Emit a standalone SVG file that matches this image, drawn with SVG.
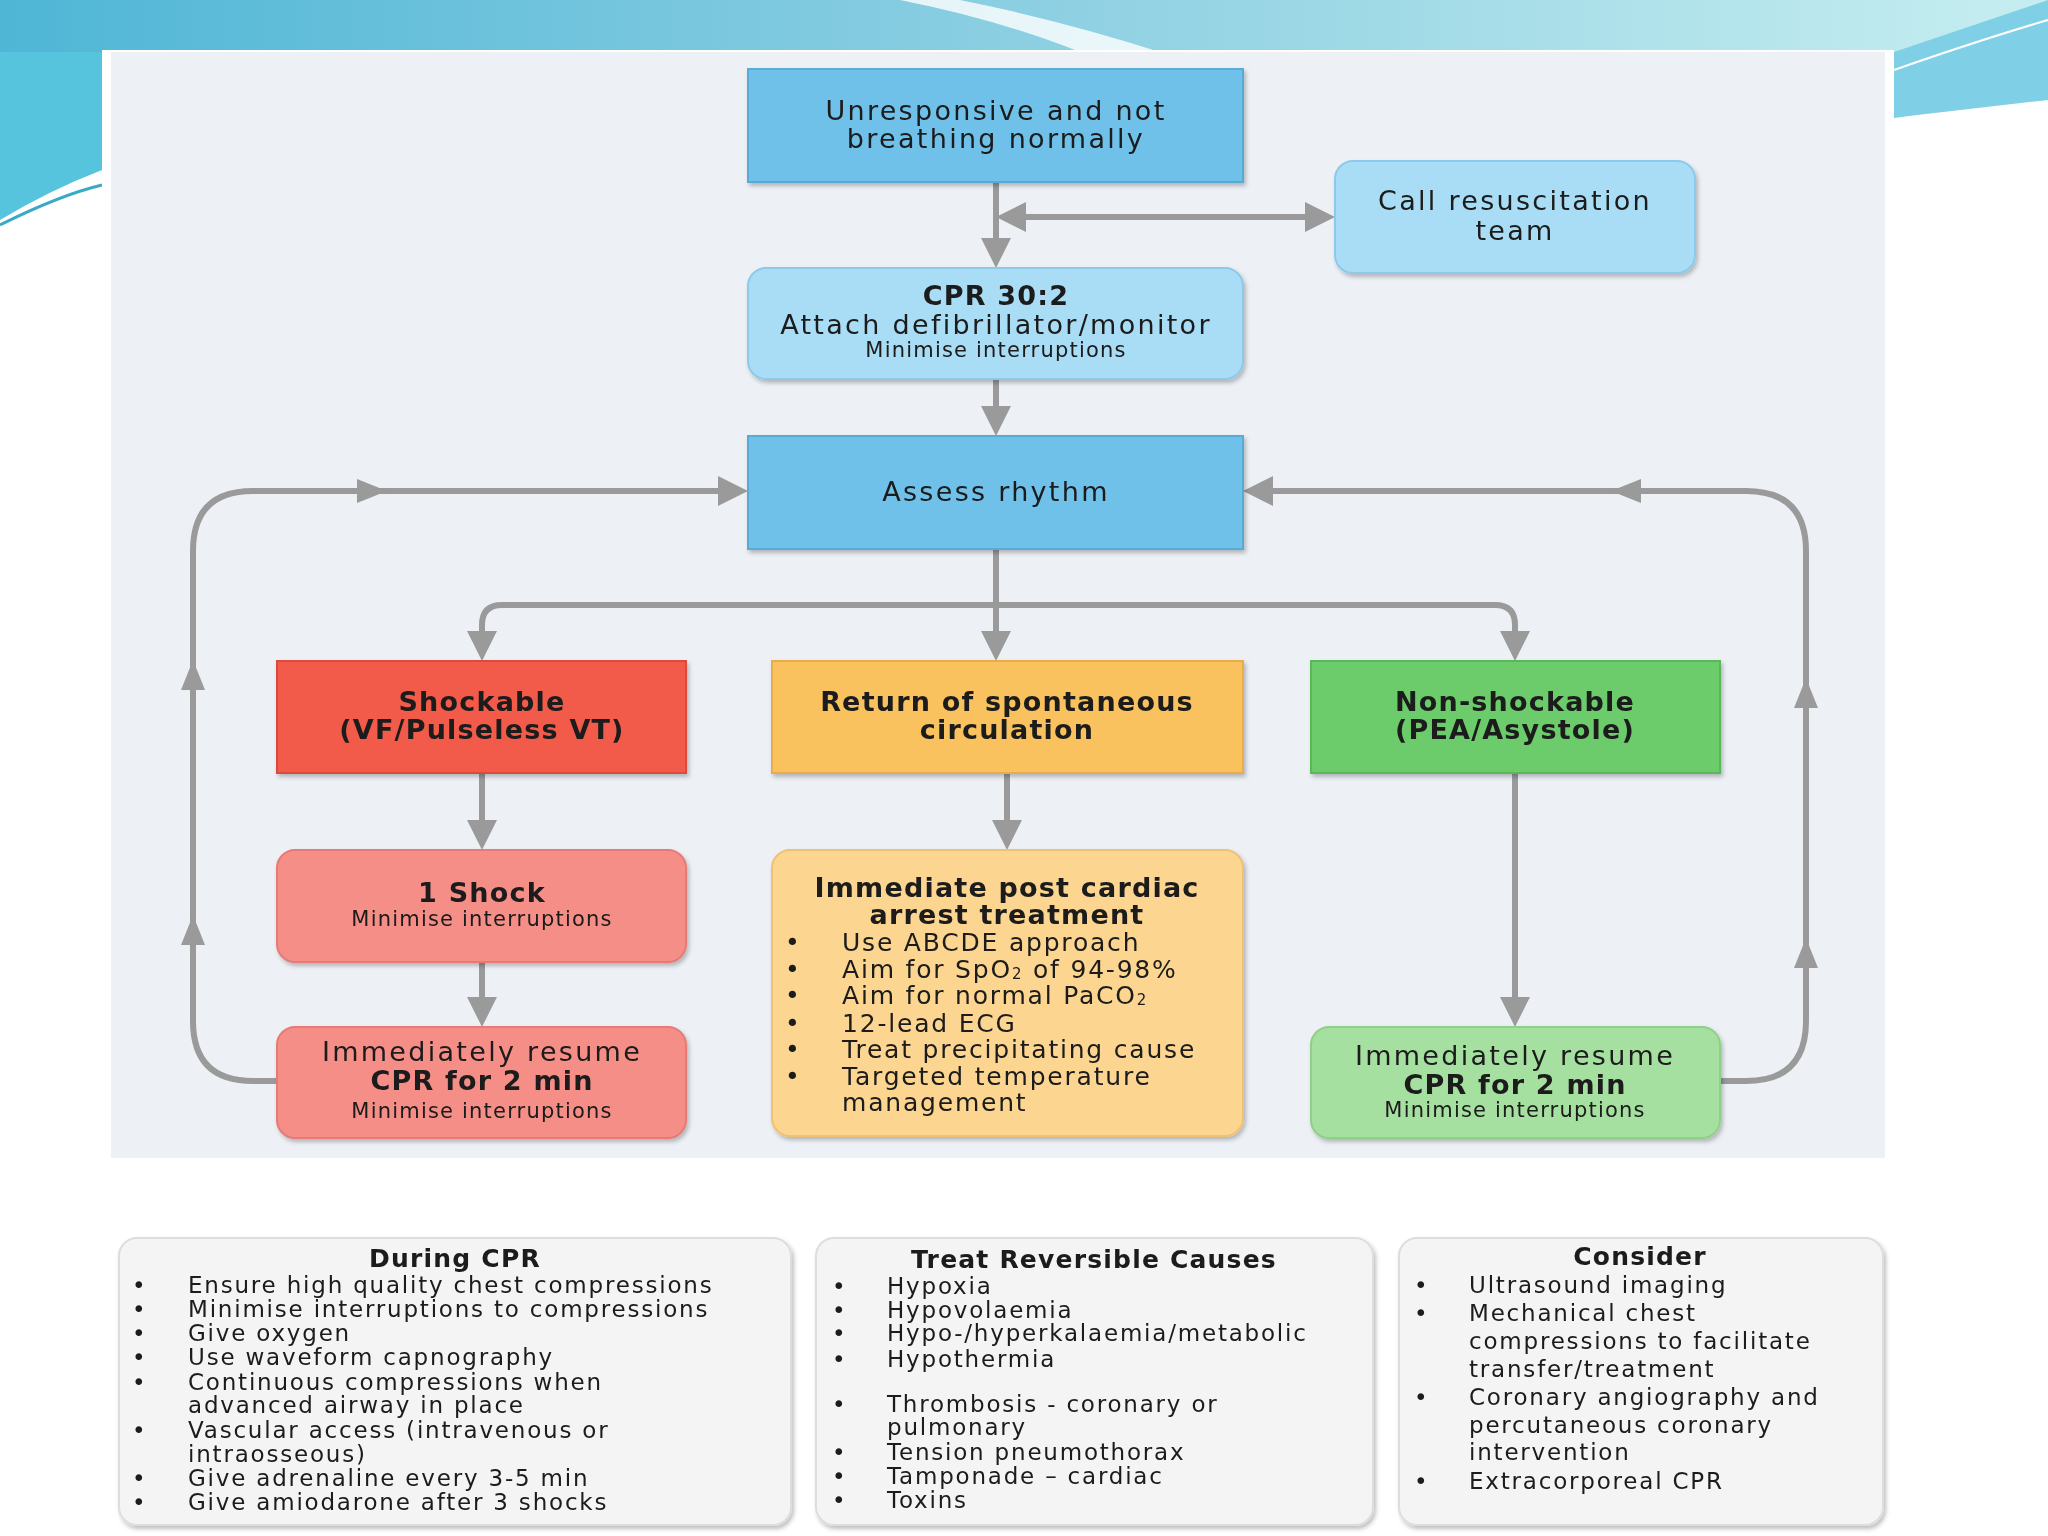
<svg xmlns="http://www.w3.org/2000/svg" width="2048" height="1536" viewBox="0 0 2048 1536">
<defs>
<linearGradient id="band" x1="0" y1="0" x2="1" y2="0"><stop offset="0" stop-color="#4fb6d6"/><stop offset="0.5" stop-color="#8ccfe2"/><stop offset="1" stop-color="#c6eef0"/></linearGradient>
<marker id="ah" viewBox="0 0 10 10" refX="8" refY="5" markerWidth="5" markerHeight="5" orient="auto-start-reverse"><path d="M0,0 L10,5 L0,10 z" fill="#9a9a9a"/></marker>
<path id="tri" d="M-15,-12 L15,0 L-15,12 z" fill="#9a9a9a"/>
<filter id="sh" x="-5%" y="-5%" width="112%" height="120%"><feDropShadow dx="2" dy="3" stdDeviation="2" flood-color="#000" flood-opacity="0.25"/></filter>
</defs>
<style>
text{font-family:"DejaVu Sans",Verdana,sans-serif;fill:#1a1a1a;dominant-baseline:central}
.n{font-size:27px;text-anchor:middle;letter-spacing:2.3px}
.b{font-weight:bold;letter-spacing:1.2px}
.s{font-size:21px;text-anchor:middle;letter-spacing:1.2px}
.t{font-size:23px;letter-spacing:1.8px}
.c{fill:none;stroke:#9a9a9a;stroke-width:6}
</style>
<rect width="2048" height="1536" fill="#ffffff"/>
<rect width="2048" height="52" fill="url(#band)"/>
<path d="M900,0 Q1000,20 1080,52 L1160,52 Q1060,20 960,0 Z" fill="#ffffff" opacity="0.8"/>
<path d="M0,52 L102,52 L102,170 Q50,190 0,220 Z" fill="#55c4dc"/>
<path d="M0,225 Q60,195 102,185" fill="none" stroke="#3aa9c6" stroke-width="3"/>
<path d="M1894,52 L2048,0 L2048,100 Q1960,110 1894,118 Z" fill="#7fd0e6"/>
<path d="M1894,70 Q1980,40 2048,20" fill="none" stroke="#ffffff" stroke-width="2"/>
<rect x="102" y="50" width="1792" height="1486" fill="#ffffff"/>
<rect x="111" y="52" width="1774" height="1106" fill="#edf1f6"/>

<g id="connectors">
<path class="c" d="M996,182 V262" marker-end="url(#ah)"/>
<path class="c" d="M1002,217 H1329" marker-start="url(#ah)" marker-end="url(#ah)"/>
<path class="c" d="M996,379 V430" marker-end="url(#ah)"/>
<path class="c" d="M996,549 V655" marker-end="url(#ah)"/>
<path class="c" d="M996,605 H502 Q482,605 482,625 V655" marker-end="url(#ah)"/>
<path class="c" d="M996,605 H1495 Q1515,605 1515,625 V655" marker-end="url(#ah)"/>
<path class="c" d="M482,773 V844" marker-end="url(#ah)"/>
<path class="c" d="M482,962 V1021" marker-end="url(#ah)"/>
<path class="c" d="M1007,773 V844" marker-end="url(#ah)"/>
<path class="c" d="M1515,773 V1021" marker-end="url(#ah)"/>
<path class="c" d="M277,1081 H253 Q193,1081 193,1021 V551 Q193,491 253,491 H742" marker-end="url(#ah)"/>
<path class="c" d="M1720,1081 H1746 Q1806,1081 1806,1021 V551 Q1806,491 1746,491 H1249" marker-end="url(#ah)"/>
<use href="#tri" transform="translate(372,491)"/>
<use href="#tri" transform="translate(193,675) rotate(-90)"/>
<use href="#tri" transform="translate(193,930) rotate(-90)"/>
<use href="#tri" transform="translate(1626,491) rotate(180)"/>
<use href="#tri" transform="translate(1806,693) rotate(-90)"/>
<use href="#tri" transform="translate(1806,953) rotate(-90)"/>
</g>

<g id="n1" filter="url(#sh)"><rect x="748" y="69" width="495" height="113" fill="#6fc1ea" stroke="#5aaad6" stroke-width="2"/>
<text class="n" x="996" y="110">Unresponsive and not</text><text class="n" x="996" y="138">breathing normally</text></g>
<g id="n2" filter="url(#sh)"><rect x="1335" y="161" width="360" height="112" rx="18" fill="#a9dcf5" stroke="#8cc9ea" stroke-width="2"/>
<text class="n" x="1515" y="200">Call resuscitation</text><text class="n" x="1515" y="230">team</text></g>
<g id="n3" filter="url(#sh)"><rect x="748" y="268" width="495" height="111" rx="18" fill="#a9dcf5" stroke="#8cc9ea" stroke-width="2"/>
<text class="n b" x="996" y="295">CPR 30:2</text><text class="n" x="996" y="324">Attach defibrillator/monitor</text><text class="s" x="996" y="350">Minimise interruptions</text></g>
<g id="n4" filter="url(#sh)"><rect x="748" y="436" width="495" height="113" fill="#6fc1ea" stroke="#5aaad6" stroke-width="2"/>
<text class="n" x="996" y="491">Assess rhythm</text></g>
<g id="n5" filter="url(#sh)"><rect x="277" y="661" width="409" height="112" fill="#f25a4a" stroke="#dc4a3c" stroke-width="2"/>
<text class="n b" x="482" y="701">Shockable</text><text class="n b" x="482" y="729">(VF/Pulseless VT)</text></g>
<g id="n6" filter="url(#sh)"><rect x="772" y="661" width="471" height="112" fill="#f9c25e" stroke="#e8ad48" stroke-width="2"/>
<text class="n b" x="1007" y="701">Return of spontaneous</text><text class="n b" x="1007" y="729">circulation</text></g>
<g id="n7" filter="url(#sh)"><rect x="1311" y="661" width="409" height="112" fill="#6ccb6a" stroke="#58b857" stroke-width="2"/>
<text class="n b" x="1515" y="701">Non-shockable</text><text class="n b" x="1515" y="729">(PEA/Asystole)</text></g>
<g id="n8" filter="url(#sh)"><rect x="277" y="850" width="409" height="112" rx="18" fill="#f68e88" stroke="#e77a74" stroke-width="2"/>
<text class="n b" x="482" y="892">1 Shock</text><text class="s" x="482" y="919">Minimise interruptions</text></g>
<g id="n9" filter="url(#sh)"><rect x="772" y="850" width="471" height="286" rx="18" fill="#fcd590" stroke="#efc175" stroke-width="2"/>
<text class="n b" x="1007" y="887">Immediate post cardiac</text><text class="n b" x="1007" y="914">arrest treatment</text>
<g class="t" style="font-size:25px"><text x="785" y="942">•</text><text x="842" y="942">Use ABCDE approach</text>
<text x="785" y="969">•</text><text x="842" y="969">Aim for SpO<tspan font-size="15" dy="5">2</tspan><tspan dy="-5"> of 94-98%</tspan></text>
<text x="785" y="995">•</text><text x="842" y="995">Aim for normal PaCO<tspan font-size="15" dy="5">2</tspan></text>
<text x="785" y="1023">•</text><text x="842" y="1023">12-lead ECG</text>
<text x="785" y="1049">•</text><text x="842" y="1049">Treat precipitating cause</text>
<text x="785" y="1076">•</text><text x="842" y="1076">Targeted temperature</text>
<text x="842" y="1102">management</text></g></g>
<g id="n10" filter="url(#sh)"><rect x="277" y="1027" width="409" height="111" rx="18" fill="#f68e88" stroke="#e77a74" stroke-width="2"/>
<text class="n" x="482" y="1051">Immediately resume</text><text class="n b" x="482" y="1080">CPR for 2 min</text><text class="s" x="482" y="1111">Minimise interruptions</text></g>
<g id="n11" filter="url(#sh)"><rect x="1311" y="1027" width="409" height="111" rx="18" fill="#a6e0a0" stroke="#8fd089" stroke-width="2"/>
<text class="n" x="1515" y="1055">Immediately resume</text><text class="n b" x="1515" y="1084">CPR for 2 min</text><text class="s" x="1515" y="1110">Minimise interruptions</text></g>

<g id="b1" filter="url(#sh)"><rect x="119" y="1238" width="672" height="287" rx="18" fill="#f4f4f4" stroke="#dddddd" stroke-width="2"/>
<text class="n b" x="455" y="1258" style="font-size:25px">During CPR</text>
<g class="t"><text x="132" y="1285">•</text><text x="188" y="1285">Ensure high quality chest compressions</text>
<text x="132" y="1309">•</text><text x="188" y="1309">Minimise interruptions to compressions</text>
<text x="132" y="1333">•</text><text x="188" y="1333">Give oxygen</text>
<text x="132" y="1357">•</text><text x="188" y="1357">Use waveform capnography</text>
<text x="132" y="1382">•</text><text x="188" y="1382">Continuous compressions when</text>
<text x="188" y="1405">advanced airway in place</text>
<text x="132" y="1430">•</text><text x="188" y="1430">Vascular access (intravenous or</text>
<text x="188" y="1454">intraosseous)</text>
<text x="132" y="1478">•</text><text x="188" y="1478">Give adrenaline every 3-5 min</text>
<text x="132" y="1502">•</text><text x="188" y="1502">Give amiodarone after 3 shocks</text></g></g>
<g id="b2" filter="url(#sh)"><rect x="816" y="1238" width="557" height="287" rx="18" fill="#f4f4f4" stroke="#dddddd" stroke-width="2"/>
<text class="n b" x="1094" y="1259" style="font-size:25px">Treat Reversible Causes</text>
<g class="t"><text x="832" y="1286">•</text><text x="887" y="1286">Hypoxia</text>
<text x="832" y="1310">•</text><text x="887" y="1310">Hypovolaemia</text>
<text x="832" y="1333">•</text><text x="887" y="1333">Hypo-/hyperkalaemia/metabolic</text>
<text x="832" y="1359">•</text><text x="887" y="1359">Hypothermia</text>
<text x="832" y="1404">•</text><text x="887" y="1404">Thrombosis - coronary or</text>
<text x="887" y="1427">pulmonary</text>
<text x="832" y="1452">•</text><text x="887" y="1452">Tension pneumothorax</text>
<text x="832" y="1476">•</text><text x="887" y="1476">Tamponade – cardiac</text>
<text x="832" y="1500">•</text><text x="887" y="1500">Toxins</text></g></g>
<g id="b3" filter="url(#sh)"><rect x="1399" y="1238" width="484" height="287" rx="18" fill="#f4f4f4" stroke="#dddddd" stroke-width="2"/>
<text class="n b" x="1640" y="1256" style="font-size:25px">Consider</text>
<g class="t"><text x="1414" y="1285">•</text><text x="1469" y="1285">Ultrasound imaging</text>
<text x="1414" y="1313">•</text><text x="1469" y="1313">Mechanical chest</text>
<text x="1469" y="1341">compressions to facilitate</text>
<text x="1469" y="1369">transfer/treatment</text>
<text x="1414" y="1397">•</text><text x="1469" y="1397">Coronary angiography and</text>
<text x="1469" y="1425">percutaneous coronary</text>
<text x="1469" y="1452">intervention</text>
<text x="1414" y="1481">•</text><text x="1469" y="1481">Extracorporeal CPR</text></g></g>
</svg>
